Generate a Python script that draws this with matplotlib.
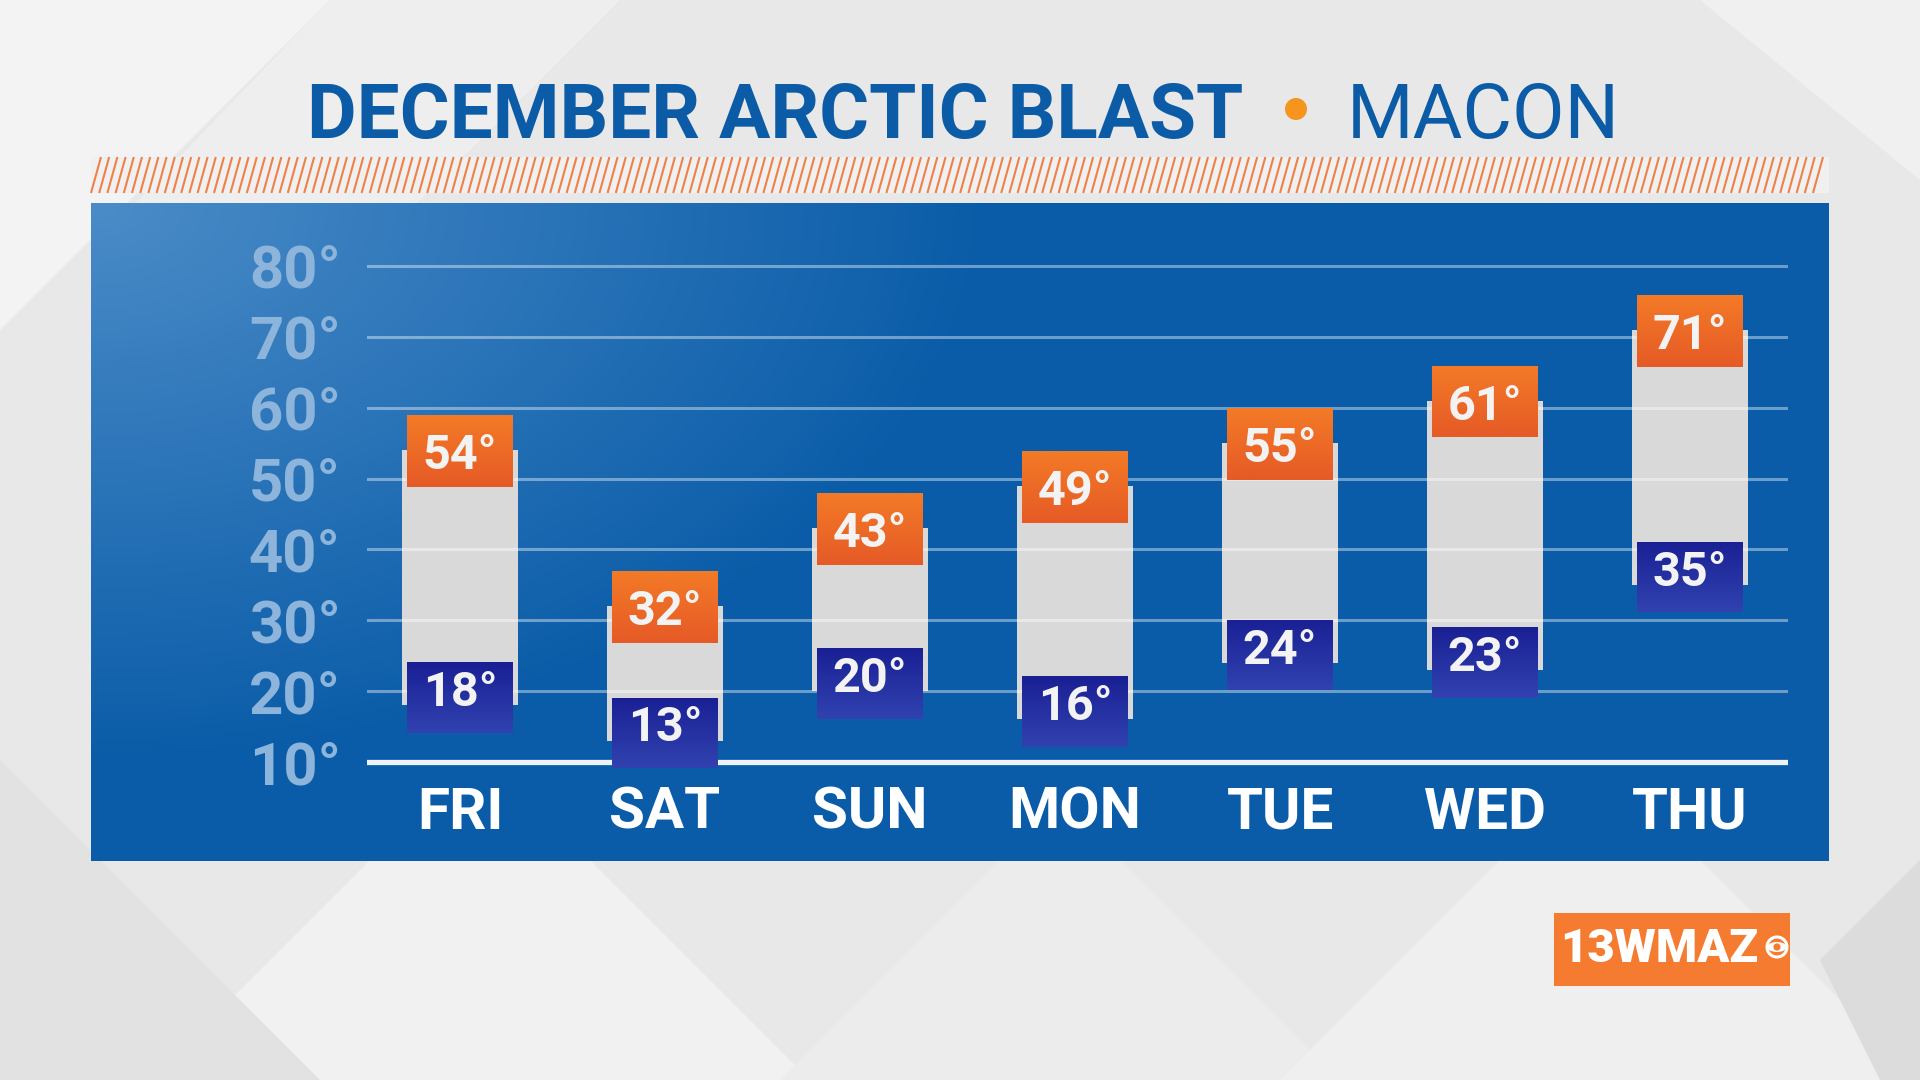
import numpy as np
import matplotlib.pyplot as plt
from matplotlib.patches import Rectangle, Circle, Ellipse, Polygon
from matplotlib.collections import LineCollection
from matplotlib.colors import LinearSegmentedColormap, to_rgb

plt.rcParams['font.family'] = 'Roboto'

# Forecast data
days = ['FRI', 'SAT', 'SUN', 'MON', 'TUE', 'WED', 'THU']
highs = [54, 32, 43, 49, 55, 61, 71]
lows = [18, 13, 20, 16, 24, 23, 35]
temp_ticks = [10, 20, 30, 40, 50, 60, 70, 80]

title_blue = '#0b5ba6'
text_white = '#f3f3f3'
tick_blue = '#8db4da'

fig = plt.figure(figsize=(19.2, 10.8), dpi=100)

# background layer, pixel coordinates with origin at top-left
bg = fig.add_axes([0, 0, 1, 1])
bg.set_xlim(0, 1920)
bg.set_ylim(1080, 0)
bg.axis('off')
bg.add_patch(Rectangle((0, 0), 1920, 1080, color='#e8e8e8', lw=0, zorder=0))

# faint diagonal shapes in the backdrop
shapes = [
    ([(0, 0), (330, 0), (0, 330)], '#f3f3f3'),
    ([(330, 0), (620, 0), (240, 380), (100, 240)], '#eeeeee'),
    ([(1450, 0), (1920, 0), (1920, 180), (1700, 0)], '#f0f0f0'),
    ([(150, 1080), (480, 750), (810, 1080)], '#f1f1f1'),
    ([(780, 1080), (1060, 800), (1340, 1080)], '#ececec'),
    ([(1280, 1080), (1600, 760), (1920, 1080)], '#efefef'),
    ([(0, 760), (320, 1080), (0, 1080)], '#e2e2e2'),
    ([(1820, 960), (1920, 860), (1920, 1080), (1880, 1080)], '#dcdcdc'),
]
for pts, c in shapes:
    bg.add_patch(Polygon(pts, closed=True, color=c, lw=0, zorder=0.5))

# title
bg.text(1243, 138, 'DECEMBER ARCTIC BLAST', ha='right', va='baseline',
        fontsize=55, fontweight='bold', color=title_blue, zorder=2)
bg.add_patch(Circle((1296, 109), 11, color='#f7941d', lw=0, zorder=2))
bg.text(1347, 138, 'MACON', ha='left', va='baseline',
        fontsize=55, color=title_blue, zorder=2)

# orange hatched stripe
bg.add_patch(Rectangle((91, 157), 1738, 36, color='#f0f0f0', lw=0, zorder=1))
segs = [[(x, 193), (x + 10, 157)] for x in np.arange(91, 1821, 8.2)]
bg.add_collection(LineCollection(segs, colors='#ef8148', linewidths=1.5, zorder=2))

# blue panel with a light glow in the top-left corner
ph, pw = 658, 1738
yy, xx = np.mgrid[0:ph, 0:pw]
t = np.clip(np.sqrt((xx / 900.0) ** 2 + (yy / 560.0) ** 2), 0, 1)
light = np.array(to_rgb('#4b8cc8'))
dark = np.array(to_rgb('#0a5ca8'))
panel = light[None, None, :] * (1 - t[..., None]) + dark[None, None, :] * t[..., None]
bg.imshow(panel, extent=(91, 1829, 861, 203), origin='upper', aspect='auto', zorder=1)

# station logo
bg.add_patch(Rectangle((1554, 913), 236, 73, color='#f47b30', lw=0, zorder=2))
bg.text(1560, 962, '13WMAZ', ha='left', va='baseline', fontsize=34,
        fontweight='black', color='white', zorder=3)
bg.add_patch(Circle((1777, 947), 10, facecolor='none', edgecolor='white', lw=2.2, zorder=3))
bg.add_patch(Ellipse((1777, 947), 19, 10, color='white', lw=0, zorder=3))
bg.add_patch(Circle((1777, 947), 3.6, color='#f47b30', lw=0, zorder=4))
bg.set_xlim(0, 1920)
bg.set_ylim(1080, 0)

# chart axes over the panel
ax = fig.add_axes([367 / 1920, (1080 - 861) / 1080, (1788 - 367) / 1920, (861 - 203) / 1080])
ax.patch.set_alpha(0)
for s in ax.spines.values():
    s.set_visible(False)

x = np.arange(len(days))
hi = np.array(highs)
lo = np.array(lows)

for tv in temp_ticks[1:]:
    ax.axhline(tv, color='white', alpha=0.4, lw=2.2, zorder=2)
ax.axhline(temp_ticks[0], color='#eef3f8', lw=3.8, zorder=2)

ax.bar(x, hi - lo, bottom=lo, width=0.562, color='#d9d9d9', lw=0, zorder=1)
hi_boxes = ax.bar(x, 10.15, bottom=hi - 5.2, width=0.513, color='#ec6826', lw=0, zorder=3)
lo_boxes = ax.bar(x, 10.0, bottom=lo - 3.9, width=0.513, color='#2432a2', lw=0, zorder=3)

grad = np.linspace(0, 1, 64).reshape(-1, 1)
orange_cmap = LinearSegmentedColormap.from_list('org', ['#f37a26', '#e65a26'])
navy_cmap = LinearSegmentedColormap.from_list('nav', ['#1a2094', '#3142b0'])
for boxes, cmap in [(hi_boxes, orange_cmap), (lo_boxes, navy_cmap)]:
    for p in boxes.patches:
        x0, y0 = p.get_x(), p.get_y()
        im = ax.imshow(grad, extent=(x0, x0 + p.get_width(), y0, y0 + p.get_height()),
                       origin='lower', cmap=cmap.reversed(), aspect='auto', zorder=3.1)
        im.set_clip_path(p)

for i in x:
    ax.text(i, hi[i] - 2.7, f'{hi[i]}°', ha='center', va='baseline', fontsize=35,
            fontweight='bold', color=text_white, zorder=4)
    ax.text(i, lo[i] - 0.1, f'{lo[i]}°', ha='center', va='baseline', fontsize=35,
            fontweight='bold', color=text_white, zorder=4)
    ax.text(i, 0.55, days[i], ha='center', va='baseline', fontsize=42,
            fontweight='bold', color='white', zorder=4)

ax.set_xlim(-0.454, 6.478)
ax.set_ylim(-3.97, 88.89)
ax.set_xticks([])
ax.set_yticks(temp_ticks, [f'{tv}°' for tv in temp_ticks])
ax.tick_params(axis='y', length=0, pad=52, labelsize=43, labelcolor=tick_blue)
for lab in ax.get_yticklabels():
    lab.set_ha('center')
    lab.set_fontweight('bold')

fig.savefig('out.png', dpi=100)
